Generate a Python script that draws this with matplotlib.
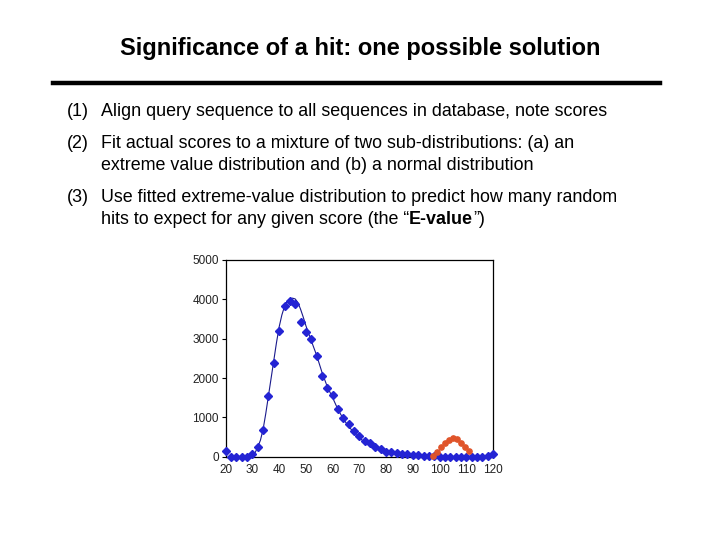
import matplotlib
matplotlib.use("Agg")
import matplotlib.pyplot as plt
from matplotlib.lines import Line2D

plt.rcParams['font.family'] = ['Liberation Sans', 'DejaVu Sans']

# observed score histogram (blue diamonds)
scores = [20, 22, 24, 26, 28, 30, 32, 34, 36, 38, 40, 42, 44, 46, 48, 50, 52,
          54, 56, 58, 60, 62, 64, 66, 68, 70, 72, 74, 76, 78, 80, 82, 84, 86,
          88, 90, 92, 94, 96, 98, 100, 102, 104, 106, 108, 110, 112, 114, 116,
          118, 120]
counts = [150, 0, 0, 0, 0, 60, 240, 680, 1550, 2380, 3200, 3820, 3970, 3890,
          3430, 3160, 3000, 2560, 2060, 1750, 1580, 1200, 980, 820, 650, 520,
          400, 340, 240, 200, 130, 110, 90, 80, 60, 50, 40, 20, 10, 10, 0, 0,
          0, 0, 0, 0, 0, 0, 0, 10, 60]

# true hits (red dots)
hit_scores = [97.5, 99, 100.5, 102, 103.5, 105, 106.5, 108, 109.5, 111]
hit_counts = [20, 130, 240, 340, 420, 465, 440, 340, 240, 150]

# fitted extreme value curve
fit_x = [30, 31, 32, 33, 34, 35, 36, 37, 38, 39, 40, 41, 42, 43, 44, 45, 46,
         47, 48, 49, 50, 52, 54, 56, 58, 60, 62, 64, 66, 68, 70, 72, 74, 76,
         78, 80, 85, 90, 95]
fit_y = [20, 100, 250, 420, 700, 1100, 1550, 2000, 2450, 2900, 3300, 3600,
         3820, 3950, 4010, 4030, 4010, 3920, 3750, 3550, 3330, 2950, 2580,
         2150, 1780, 1500, 1200, 960, 770, 610, 480, 370, 290, 220, 170, 130,
         70, 35, 15]

fig = plt.figure(figsize=(7.2, 5.4), dpi=100)

fig.text(0.5, 1 - 48 / 540, "Significance of a hit: one possible solution",
         ha='center', va='center', fontsize=17, fontweight='bold')
fig.add_artist(Line2D([53 / 720, 660 / 720], [1 - 83 / 540, 1 - 83 / 540],
                      color='black', linewidth=3.2, transform=fig.transFigure))

items = [
    ("(1)", ["Align query sequence to all sequences in database, note scores"], 112),
    ("(2)", ["Fit actual scores to a mixture of two sub-distributions: (a) an",
             "extreme value distribution and (b) a normal distribution"], 144),
    ("(3)", ["Use fitted extreme-value distribution to predict how many random",
             "hits to expect for any given score (the \u201c"], 198),
]
line_gap = 21
last = None
for num, lines, ytop in items:
    fig.text(67 / 720, 1 - ytop / 540, num, ha='left', va='center', fontsize=12.9)
    for i, s in enumerate(lines):
        last = fig.text(101 / 720, 1 - (ytop + i * line_gap) / 540, s,
                        ha='left', va='center', fontsize=12.9)

fig.canvas.draw()
r = fig.canvas.get_renderer()
bb = last.get_window_extent(r)
ev = fig.text(bb.x1 / 720, last.get_position()[1], "E-value", ha='left',
              va='center', fontsize=12.9, fontweight='bold')
bb2 = ev.get_window_extent(r)
fig.text(bb2.x1 / 720, last.get_position()[1], "\u201d)", ha='left',
         va='center', fontsize=12.9)

ax = fig.add_axes([225.7 / 720, 1 - 456.7 / 540, (493 - 225.7) / 720,
                   (456.7 - 260) / 540])
ax.plot(fit_x, fit_y, color='#1a1a8c', linewidth=0.8, zorder=2)
ax.plot(scores, counts, linestyle='none', marker='D', markersize=4.3,
        color='#2424d4', zorder=3)
ax.plot(hit_scores, hit_counts, linestyle='none', marker='o', markersize=3.8,
        color='#e0542a', zorder=4)

ax.set_xlim(20, 120)
ax.set_ylim(0, 5000)
ax.set_xticks(range(20, 121, 10))
ax.set_yticks(range(0, 5001, 1000))
ax.tick_params(axis='x', length=0, labelsize=8.5, labelcolor='#222222', pad=5)
ax.tick_params(axis='y', length=3, width=0.8, labelsize=8.5,
               labelcolor='#222222', pad=2)
for sp in ax.spines.values():
    sp.set_linewidth(0.9)
for line in ax.lines:
    line.set_clip_on(False)

fig.savefig("out.png", dpi=100)
